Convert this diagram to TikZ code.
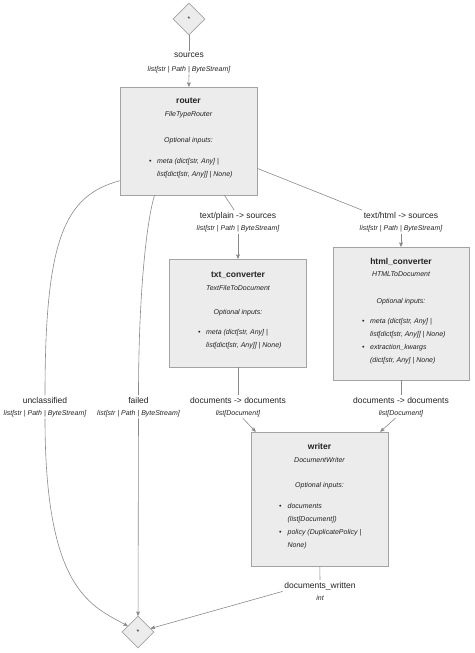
\documentclass[tikz,border=0pt]{standalone}
\usepackage{fontspec}
\setmainfont{Liberation Sans}
\usetikzlibrary{arrows,shapes.geometric}
\definecolor{boxfill}{HTML}{ECECEC}
\definecolor{boxline}{HTML}{A3A3A3}
\definecolor{wirec}{HTML}{8A8A8A}
\definecolor{inkc}{HTML}{222222}

\begin{document}
\begin{tikzpicture}[>=stealth',x=1pt,y=-1pt,text=inkc,
	comp/.style={rectangle, draw=boxline, fill=boxfill, line width=0.6pt},
	junc/.style={diamond, draw=boxline, fill=boxfill, line width=0.6pt, minimum width=32pt, minimum height=32pt, inner sep=0pt, font=\fontsize{7}{8}\selectfont},
	title/.style={anchor=base, inner sep=0pt, font=\fontsize{8.5}{10}\selectfont\bfseries},
	cls/.style={anchor=base, inner sep=0pt, font=\fontsize{7}{9}\selectfont\itshape},
	opts/.style={anchor=base west, inner sep=0pt, font=\fontsize{7}{13}\selectfont\itshape},
	ename/.style={anchor=base, inner sep=1.5pt, font=\fontsize{8.5}{10}\selectfont},
	etype/.style={anchor=base, inner sep=1.5pt, font=\fontsize{7}{9}\selectfont\itshape},
	wire/.style={draw=wirec, line width=0.6pt}]
	\useasboundingbox (0,0) rectangle (474,653);

	\node[junc] (top) at (189,19) {*};
	\node[junc] (bot) at (138,632) {*};

	\node[comp, minimum width=137, minimum height=108] (router) at (188.5,141) {};
	\node[title] (routerT) at (188.5,103.5) {router};
	\node[cls]   (routerC) at (188.5,116.5) {FileTypeRouter};
	\node[cls]   (routerO) at (188.5,142.5) {Optional inputs:};
	\node[opts]  (routerI) at (149,163) {\begin{tabular}[t]{@{}l@{\hspace{5.5pt}}l@{}}
		\textbullet & meta (dict[str, Any] |\\
		& list[dict[str, Any]] | None)
	\end{tabular}};

	\node[comp, minimum width=137, minimum height=108] (txt) at (238,313) {};
	\node[title] (txtT) at (238,277.5) {txt\_converter};
	\node[cls]   (txtC) at (238,290) {TextFileToDocument};
	\node[cls]   (txtO) at (238,314) {Optional inputs:};
	\node[opts]  (txtI) at (198,334) {\begin{tabular}[t]{@{}l@{\hspace{5.5pt}}l@{}}
		\textbullet & meta (dict[str, Any] |\\
		& list[dict[str, Any]] | None)
	\end{tabular}};

	\node[comp, minimum width=136, minimum height=133] (html) at (401,313.5) {};
	\node[title] (htmlT) at (401,264.5) {html\_converter};
	\node[cls]   (htmlC) at (401,276.5) {HTMLToDocument};
	\node[cls]   (htmlO) at (401,303.5) {Optional inputs:};
	\node[opts]  (htmlI) at (362,323.5) {\begin{tabular}[t]{@{}l@{\hspace{5.5pt}}l@{}}
		\textbullet & meta (dict[str, Any] |\\
		& list[dict[str, Any]] | None)\\
		\textbullet & extraction\_kwargs\\
		& (dict[str, Any] | None)
	\end{tabular}};

	\node[comp, minimum width=137, minimum height=134] (writer) at (319.5,499) {};
	\node[title] (writerT) at (319.5,449) {writer};
	\node[cls]   (writerC) at (319.5,462) {DocumentWriter};
	\node[cls]   (writerO) at (319.5,487) {Optional inputs:};
	\node[opts]  (writerI) at (279,508) {\begin{tabular}[t]{@{}l@{\hspace{6pt}}l@{}}
		\textbullet & documents\\
		& (list[Document])\\
		\textbullet & policy (DuplicatePolicy |\\
		& None)
	\end{tabular}};

	\node[ename] (srcN) at (189,57) {sources};
	\node[etype] (srcT) at (189,71) {list[str | Path | ByteStream]};
	\node[ename] (ptN) at (238,218) {text/plain -> sources};
	\node[etype] (ptT) at (238,230.5) {list[str | Path | ByteStream]};
	\node[ename] (htN) at (401,218) {text/html -> sources};
	\node[etype] (htT) at (401,230.5) {list[str | Path | ByteStream]};
	\node[ename] (unN) at (45,403) {unclassified};
	\node[etype] (unT) at (45,415) {list[str | Path | ByteStream]};
	\node[ename] (faN) at (138.5,403) {failed};
	\node[etype] (faT) at (138.5,415) {list[str | Path | ByteStream]};
	\node[ename] (d1N) at (238,403) {documents -> documents};
	\node[etype] (d1T) at (238,415) {list[Document]};
	\node[ename] (d2N) at (401,403) {documents -> documents};
	\node[etype] (d2T) at (401,415) {list[Document]};
	\node[ename] (dwN) at (320,588) {documents\_written};
	\node[etype] (dwT) at (320,600) {int};

	\draw[wire] (top) -- (srcN);
	\draw[wire,->] (srcT) -- (router);
	\draw[wire] (router) -- (ptN);
	\draw[wire,->] (ptT) -- (txt);
	\draw[wire] (router) -- (htN.north west);
	\draw[wire,->] (htT) -- (html);
	\draw[wire] (router.210) .. controls +(-55,15) and +(0,-157) .. (unN.north);
	\draw[wire,->] (unT.south) .. controls +(0,175) and +(-35,-20) .. (bot.150);
	\draw[wire] (router.238) .. controls +(-8,25) and +(0,-100) .. (faN.north);
	\draw[wire,->] (faT) -- (bot);
	\draw[wire] (txt) -- (d1N);
	\draw[wire,->] (d1T) -- (writer);
	\draw[wire] (html) -- (d2N);
	\draw[wire,->] (d2T) -- ([xshift=-8]writer.north east);
	\draw[wire] (writer) -- (dwN);
	\draw[wire,->] (dwN.south west) -- (bot);
\end{tikzpicture}
\end{document}
